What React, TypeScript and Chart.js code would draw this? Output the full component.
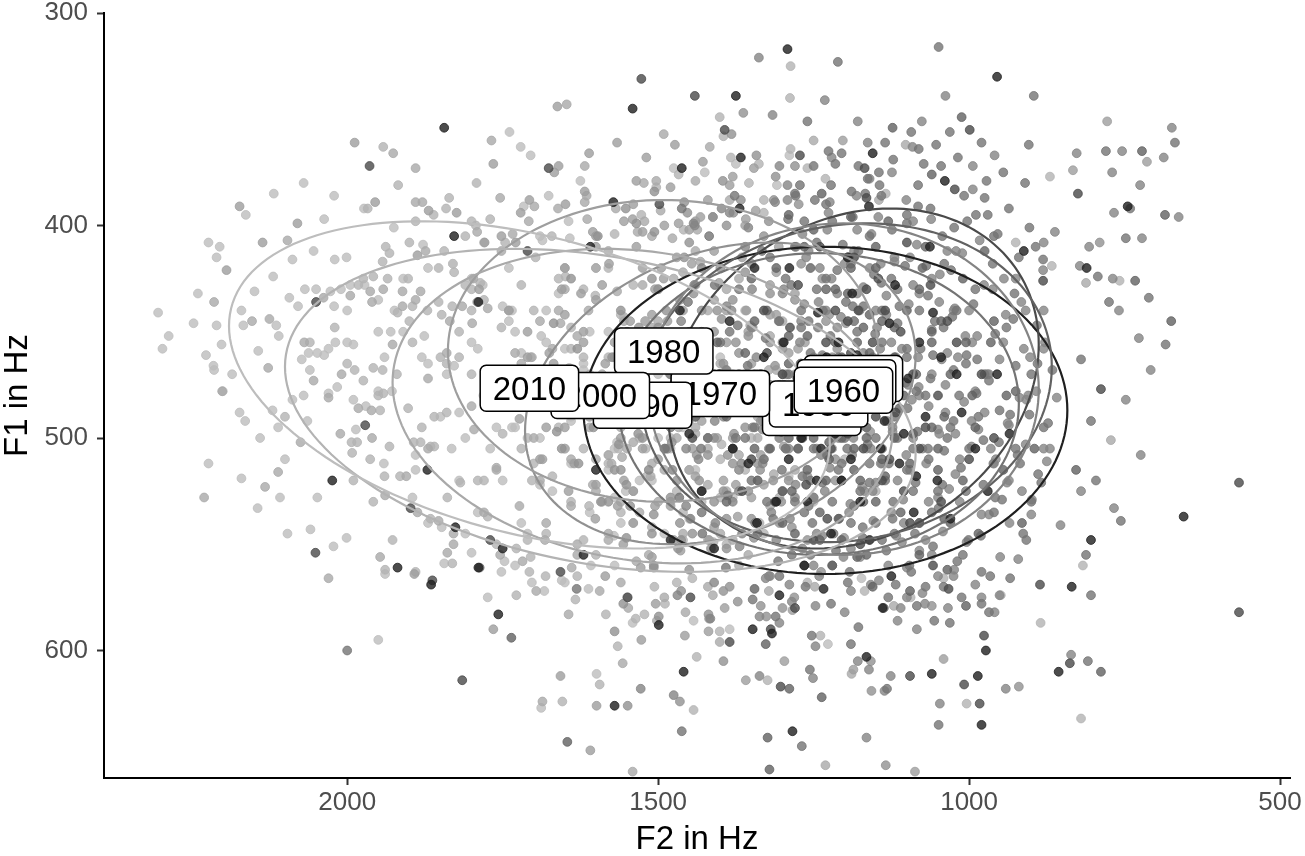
import React, { useEffect, useRef } from 'react';
import { Chart, registerables } from 'chart.js';

Chart.register(...registerables);

// ---------- data (F2 in Hz, F1 in Hz) ----------
const decades = ['1920', '1930', '1940', '1950', '1960', '1970', '1980', '1990', '2000', '2010'];

const d1920: number[][] = [
  [1402,470],[1355,512],[1298,455],[1260,530],[1215,498],[1180,461],[1142,505],[1098,472],[1051,520],[1012,488],
  [1320,488],[1276,472],[1243,441],[1205,520],[1167,487],[1128,446],[1089,535],[1045,462],[990,505],[955,470],
  [1450,498],[1385,445],[1341,540],[1302,497],[1254,466],[1222,545],[1188,432],[1150,478],[1112,512],[1070,490],
  [1498,482],[1430,525],[1366,478],[1289,420],[1238,505],[1196,476],[1160,548],[1119,428],[1080,455],[1030,538],
  [1540,455],[1465,440],[1410,552],[1330,462],[1270,500],[1229,462],[1190,510],[1136,492],[1058,441],[970,525],
  [1380,505],[1310,530],[1250,485],[1210,455],[1175,530],[1105,498],[1020,470],[935,498],[1600,515],[1480,548],
  [1345,420],[1265,560],[1195,415],[1125,565],[1063,410],[1425,485],[1290,510],[1245,520],[1165,468],[1085,518],
  [1844,354],[1828,405],[1789,436],[1871,515],[1826,542],[2024,520],[1919,561],[1789,561],[1750,552],[1620,555],
  [955,330],[1039,379],[745,391],[912,412],[811,420],[804,548],[655,537],
  [1292,317],[1541,345],[1375,339],[1155,366],[1367,368],[1462,373],[1572,389],[1369,392],[1161,391],[1609,410],
  [1865,569],[1757,583],[1570,626],[1499,588],[1459,610],
  [1305,574],[1348,590],[1317,592],[1234,571],[1165,603],[1060,611],[986,612],[980,635],[973,600],[1139,580],[835,570],[856,610],[1284,638]
];

const d1930: number[][] = [
  [1186,472],[1230,455],[1150,490],[1268,500],[1110,450],[1205,520],[1165,430],[1300,470],[1080,505],[1240,485],
  [1125,470],[1195,445],[1050,480],[1330,440],[1210,495],[1140,520],[1275,428],[1095,540],[1350,510],[1020,455],
  [1170,505],[1255,470],[1118,488],[1185,415],[1228,538],[1062,428],[1310,492],[1155,455],[1000,510],[1390,478],
  [1208,470],[1135,440],[1262,522],[1090,470],[1175,550],[1240,410],[1045,530],[1325,460],[1160,478],[1215,440],
  [980,470],[1420,455],[1195,498],[1128,510],[1288,448],[1070,495],[1250,548],[1146,425],[1035,445],[1365,525],
  [1190,460],[1105,525],[1280,478],[1222,505],[960,500],[1445,500],[1178,440],[1100,408],[1312,530],[1058,560],
  [1964,372],[2050,436],[1971,494],[1898,533],[2051,554],[1863,567],[1770,548],[1657,563],
  [999,355],[1023,383],[825,385],[881,426],[788,477],[566,521],[566,582],
  [1527,331],[1441,339],[1393,355],[1272,367],[1676,373],[1168,373],[1498,390],[1165,387],[1710,412],
  [1815,614],[1549,575],[1448,575],
  [1385,596],[1319,590],[1280,580],[1303,617],[1095,612],[1008,616],[983,625],[976,593],[1033,571],[886,569],[838,606]
];

const d1940: number[][] = [
  [1197,474],[1245,490],[1160,460],[1290,452],[1120,500],[1230,430],[1175,520],[1330,485],[1085,470],[1260,515],
  [1140,445],[1205,500],[1060,495],[1360,460],[1215,455],[1150,530],[1300,540],[1100,440],[1380,505],[1030,470],
  [1180,488],[1270,465],[1125,478],[1195,432],[1240,548],[1075,420],[1320,505],[1165,500],[990,495],[1410,470],
  [1220,478],[1145,470],[1285,525],[1095,512],[1180,556],[1255,420],[1040,538],[1345,445],[1170,448],[1225,510],
  [965,455],[1440,490],[1205,462],[1135,518],[1300,490],[1060,450],[1265,560],[1150,410],[1010,520],[1390,530],
  [1185,505],[1112,486],[1250,500],[1210,538],[940,480],[1470,470],[1190,420],[1080,540],[1335,470],[1050,505],
  [1012,349],[1060,376],[722,365],[685,395],[733,426],[675,445],[828,515],[1123,354],[1237,385],
  [1787,561],[1736,594],[1646,643],
  [1345,571],[1327,597],[1289,618],[1237,622],[1005,579],[788,610],[1324,641],[1321,656],
  [1130,398],[1190,396],[1250,402],[1310,420],[1070,410],[1010,425],[960,445],[925,478],[945,515],[985,545],
  [1035,562],[1095,572],[1155,570],[1220,560],[1280,545],[1340,520],[1390,490],[1405,455],[1350,425],[1290,395],
  [1060,455],[1120,462],[1180,455],[1240,475],[1050,515],[1110,535],[1170,530],[1230,520],[1290,465],[1345,505],
  [995,480],[1040,490],[1080,430],[1140,510],[1200,488],[1260,452],[1320,480],[1005,455],[1030,540],[1090,498],
  [1150,420],[1205,548],[1265,410],[975,412],[1325,440],[1165,555],[1105,480],[1215,430],[1275,505],[1045,445],
  [1185,515],[1240,535],[915,540],[895,505],[1120,448],[1080,555],[1300,525],[1370,470],[1225,502],[1160,442]
];

const d1950: number[][] = [
  [1242,484],[1290,470],[1200,500],[1330,510],[1160,465],[1270,440],[1220,530],[1370,480],[1120,490],[1300,525],
  [1180,450],[1250,505],[1100,515],[1400,455],[1255,460],[1190,540],[1340,545],[1140,440],[1420,500],[1070,480],
  [1225,492],[1310,478],[1165,495],[1235,440],[1285,555],[1115,430],[1360,500],[1205,512],[1035,500],[1450,475],
  [1262,478],[1185,478],[1325,530],[1135,520],[1220,560],[1295,425],[1080,540],[1385,450],[1210,462],[1268,518],
  [1005,465],[1480,495],[1245,470],[1175,525],[1345,495],[1100,458],[1305,565],[1190,418],[1050,525],[1430,535],
  [1228,508],[1150,500],[1290,500],[1252,540],[985,490],[1510,480],[1230,425],[1120,545],[1375,475],[1090,505],
  [1049,316],[896,339],[1031,356],[1081,364],[904,362],[669,361],[780,365],[1073,371],[975,387],[741,392],[970,395],[893,410],[748,406],[881,416],[793,424],
  [775,436],[711,434],[684,456],[820,463],[804,492],[796,520],[756,539],[812,555],
  [1211,323],[1260,351],[1226,365],[1215,371],[1145,375],[1272,381],[1144,381],[1279,386],[1189,384],
  [2000,600],[1631,571],[1462,638],
  [1311,584],[1253,593],[1256,609],[1190,597],[1132,618],[1049,635],[1031,587],[980,578],[980,563],[1084,579],[804,574],[809,605],[1269,645],
  [1100,395],[1160,405],[1220,398],[1280,410],[1040,418],[990,430],[940,448],[900,470],[925,505],[960,535],
  [1010,555],[1070,570],[1130,575],[1195,568],[1255,555],[1315,538],[1375,500],[1400,470],[1370,430],[1320,415],
  [1080,440],[1140,455],[1200,470],[1260,488],[1030,495],[1090,525],[1150,540],[1210,515],[1270,448],[1330,488],
  [975,470],[1025,468],[1055,445],[1115,500],[1175,490],[1235,465],[1295,505],[1345,470],[1005,525],[1065,510],
  [1125,425],[1185,532],[1245,430],[960,405],[1305,445],[1140,548],[1085,478],[1195,415],[1255,520],[1020,440],
  [1160,512],[1218,545],[900,530],[880,495],[1100,462],[1060,535],[1280,530],[1350,520],[1230,495],[1170,438],
  [1462,392],[1418,405],[1377,386],[1333,412],[1291,397],[1248,388],[1203,409],[1167,385],[1124,402],[1082,391],
  [1043,405],[1003,398],[962,418],[927,432],[891,447],[866,468],[873,493],[889,517],[908,548],[934,566],
  [968,582],[1012,575],[1056,586],[1093,563],[1137,580],[1178,589],[1222,578],[1263,570],[1307,558],[1348,576],
  [1391,561],[1429,545],[1466,528],[1489,505],[1497,482],[1476,458],[1452,436],[1409,428],[1372,447],[1327,453],
  [1286,428],[1243,448],[1198,436],[1153,423],[1112,438],[1069,419],[1027,443],[987,463],[951,487],[922,508],
  [958,528],[1001,548],[1043,522],[1087,545],[1129,512],[1171,542],[1214,553],[1258,532],[1301,515],[1344,540],
  [1388,527],[1431,505],[1398,482],[1356,466],[1313,491],[1271,465],[1229,472],[1187,463],[1144,486],[1102,474],
  [1058,461],[1016,480],[977,501],[1040,506],[1083,497],[1122,530],[1163,503],[1207,490],[1250,497],[1292,484],
  [1245,408],[1212,421],[1178,412],[1141,427],[1103,419],[1066,433],[1029,421],[993,437],[958,451],[925,466],
  [903,489],[918,512],[947,529],[981,546],[1019,558],[1058,551],[1096,560],[1133,553],[1171,547],[1209,538],
  [1236,521],[1228,497],[1207,478],[1172,489],[1136,471],[1099,486],[1062,472],[1025,492],[988,479],[952,502],
  [977,522],[1013,514],[1049,533],[1086,521],[1123,538],[1160,521],[1196,505],[1151,451],[1115,446],[1078,458],
  [1041,448],[1004,461],[968,473],[934,489],[1187,438],[1223,452],[1249,470],[1192,563],[1118,569],[1041,570],
  [966,565],[913,545],[884,521],[890,465],[929,444],[1265,535],[1258,445],[1140,505],[1066,505],[1000,505],
  [1250,372],[1205,366],[1163,378],[1122,369],[1082,381],[1045,372],[1008,386],[972,379],[936,392],[903,401],
  [1230,390],[1187,396],[1141,386],[1100,399],[1062,392],[1024,401],[989,395],[954,404],[920,415],[1280,385],
  [1265,398],[1222,381],[1178,372],[1135,361],[1093,356],[1053,362],[1018,368],[980,361],[945,375],[910,380]
];

const d1960: number[][] = [
  [1202,477],[1250,462],[1165,495],[1290,505],[1125,455],[1232,525],[1180,432],[1320,475],[1090,500],[1262,490],
  [1140,470],[1212,448],[1065,485],[1350,448],[1220,500],[1155,525],[1298,430],[1105,540],[1370,515],[1035,460],
  [1188,508],[1272,475],[1132,492],[1200,418],[1245,545],[1080,432],[1332,496],[1170,460],[1015,510],[1400,482],
  [1225,470],[1148,448],[1280,528],[1098,475],[1190,552],[1258,412],[1050,528],[1342,462],[1178,482],[1230,440],
  [990,478],[1430,458],[1210,500],[1140,512],[1300,455],[1075,505],[1268,552],[1160,420],[1025,440],[1380,530],
  [1195,465],[1115,520],[1285,485],[1238,508],[965,505],[1455,505],[1185,445],[1095,415],[1318,535],[1060,555],
  [1038,339],[1076,351],[1091,363],[959,367],[674,354],[827,366],[754,365],[687,368],[994,372],[994,383],[770,375],[725,381],[767,394],[663,396],[862,403],[880,408],[807,410],[722,406],[881,421],[822,419],[769,425],
  [759,440],[727,453],[708,468],[748,482],[724,508],[767,533],[853,541],[820,525],
  [1338,321],[1232,341],[1316,348],[1179,351],[1163,361],[1221,368],[1305,372],[1124,375],[1292,381],[1160,378],[1292,388],[1224,389],[1181,386],[1443,399],[1385,394],
  [1528,618],[1469,574],[1475,621],
  [1289,569],[1416,585],[1337,584],[1305,587],[1247,579],[1247,598],[1337,612],[1251,613],[1179,605],[1161,609],[1136,619],[1126,612],[1047,625],[1084,590],[959,582],[1025,565],[1100,575],[1071,578],[1145,567],[836,602],[941,618],[1165,641],
  [1180,402],[1120,415],[1060,425],[1000,440],[945,455],[1240,420],[1300,432],[1360,410],[1420,455],[1480,470],
  [905,480],[960,512],[1015,530],[1070,548],[1130,560],[1190,572],[1250,560],[1310,548],[1370,525],[1435,510],
  [880,440],[925,425],[1090,398],[1150,440],[1210,478],[1270,445],[1335,470],[1395,490],[1455,532],[1515,515],
  [870,505],[935,540],[995,455],[1048,498],[1108,458],[1168,525],[1228,490],[1288,538],[1348,495],[1408,540],
  [1035,412],[1092,482],[1158,505],[1212,432],[1272,482],[1332,512],[1390,468],[1442,428],[980,575],[1110,580],
  [1262,415],[1202,556],[1142,418],[1082,462],[1022,498],[962,430],[902,462],[1322,565],[1382,440],[1050,565],
  [1125,535],[1185,445],[1245,505],[1305,475],[1365,545],[915,525],[975,488],[1038,475],[1095,515],[1155,462],
  [1441,400],[1398,392],[1355,401],[1312,389],[1268,404],[1226,394],[1185,412],[1146,396],[1101,388],[1061,397],
  [1021,412],[983,407],[944,425],[909,440],[880,458],[859,481],[880,505],[899,529],[921,557],[951,574],
  [990,569],[1034,580],[1075,573],[1115,586],[1158,569],[1200,582],[1241,565],[1285,577],[1327,566],[1369,551],
  [1410,568],[1448,538],[1477,515],[1493,492],[1485,468],[1463,445],[1430,420],[1390,438],[1349,430],[1306,445],
  [1265,437],[1221,425],[1176,440],[1133,433],[1090,428],[1048,436],[1006,452],[968,470],[936,494],[908,482],
  [939,521],[980,536],[1022,517],[1065,530],[1108,549],[1150,521],[1193,535],[1236,546],[1279,522],[1322,505],
  [1366,512],[1409,492],[1378,473],[1336,480],[1294,470],[1251,483],[1208,476],[1166,470],[1123,495],[1080,480],
  [1038,488],[996,492],[957,510],[1018,462],[1060,470],[1101,508],[1143,458],[1186,500],[1229,508],[1272,455],
  [1228,402],[1193,415],[1157,404],[1120,417],[1084,409],[1047,423],[1011,413],[976,428],[941,442],[912,458],
  [892,478],[909,503],[936,520],[968,536],[1004,549],[1042,544],[1080,553],[1117,546],[1154,539],[1191,531],
  [1224,514],[1214,490],[1190,470],[1154,480],[1118,462],[1081,476],[1044,463],[1008,483],[971,470],[938,493],
  [961,512],[996,504],[1032,524],[1069,512],[1106,529],[1142,512],[1179,496],[1133,442],[1097,437],[1060,449],
  [1023,439],[987,452],[951,463],[919,481],[1170,429],[1206,443],[1236,461],[1175,556],[1100,561],[1024,562],
  [950,556],[900,536],[875,511],[878,455],[916,436],[1250,528],[1242,436],[1123,497],[1050,496],[985,496]
];

const d1970: number[][] = [
  [1400,479],[1450,465],[1360,495],[1490,505],[1320,455],[1430,525],[1380,435],[1520,475],[1290,500],[1460,490],
  [1340,470],[1410,450],[1265,485],[1550,450],[1420,500],[1355,525],[1500,430],[1305,540],[1570,515],[1235,462],
  [1388,508],[1472,475],[1332,492],[1400,420],[1445,545],[1280,435],[1532,498],[1370,460],[1215,510],[1600,482],
  [1425,470],[1348,448],[1480,528],[1298,475],[1390,552],[1458,415],[1250,528],[1542,462],[1378,482],[1430,440],
  [1190,478],[1630,458],[1410,500],[1340,512],[1500,455],[1275,505],[1468,552],[1360,422],[1225,442],[1580,530],
  [1395,465],[1315,520],[1485,485],[1438,508],[1165,505],[1655,505],
  [1363,347],[1382,357],[1342,367],[1280,372],[1311,377],[1396,379],[1314,388],[1274,390],[1535,399],[1506,403],[1453,394],[1412,396],[1379,394],
  [790,408],
  [1549,626],[1570,591],[1556,578],[1499,584],[1465,624],[1507,561],
  [1395,572],[1419,583],[1335,579],[1300,580],[1395,605],[1158,605],[1157,619],[920,617],[1060,579],[1134,654],
  [1330,405],[1390,400],[1450,408],[1510,425],[1270,418],[1230,445],[1200,480],[1215,520],[1260,548],[1320,565],
  [1385,570],[1450,562],[1510,545],[1560,515],[1585,480],[1560,440],[1300,458],[1360,470],[1420,462],[1480,482],
  [1290,520],[1350,538],[1410,530],[1470,520],[1530,470],[1245,495],[1320,432],[1380,512],[1440,490],[1500,448],
  [1265,470],[1335,492],[1405,440],[1465,540],[1525,500],[1350,418],[1415,552],[1285,542],[1545,532],[1220,462],
  [1375,455],[1435,478],[1305,500],[1485,505],[1395,525],
  [1702,472],[1668,446],[1640,425],[1597,405],[1552,392],[1506,384],[1458,389],[1412,396],[1367,388],[1322,398],
  [1278,410],[1236,425],[1198,446],[1170,470],[1159,497],[1172,523],[1201,547],[1238,563],[1281,575],[1326,584],
  [1372,577],[1418,585],[1463,572],[1507,560],[1551,547],[1592,530],[1628,512],[1663,497],[1615,478],[1574,462],
  [1531,448],[1487,440],[1443,432],[1398,444],[1355,452],[1312,466],[1271,478],[1233,494],[1260,518],[1302,530],
  [1346,547],[1390,538],[1434,520],[1478,502],[1521,488],[1563,503],[1604,495],[1551,522],[1507,536],[1463,548],
  [1420,508],[1378,498],[1336,515],[1294,505],[1252,470],[1212,458],[1442,470],[1485,465],[1366,478],[1322,485]
];

const d1980: number[][] = [
  [1492,459],[1545,445],[1450,475],[1590,485],[1410,435],[1525,505],[1470,415],[1620,455],[1380,480],[1560,470],
  [1430,450],[1505,430],[1350,465],[1655,430],[1515,480],[1445,505],[1600,410],[1395,520],[1680,495],[1320,442],
  [1480,488],[1570,455],[1420,472],[1490,400],[1540,525],[1365,415],[1635,478],[1460,440],[1300,490],[1710,462],
  [1520,450],[1440,428],[1580,508],[1390,455],[1480,532],[1555,398],[1335,508],[1650,442],[1470,462],[1525,420],
  [1275,458],[1740,440],[1505,480],[1430,492],[1600,435],[1360,485],[1565,532],[1450,402],[1310,422],[1690,510],
  [1485,445],[1405,500],[1585,465],[1535,488],[1250,485],[1770,485],
  [778,351],[714,370],[833,374],[1041,604],[1186,609],
  [1662,344],[1203,360],[1667,375],[1346,373],[1535,379],[1380,377],[1618,384],[1649,390],[1721,394],[1541,397],[1525,403],[1467,399],[1432,396],[1359,397],[1729,408],[1605,403],
  [1892,564],[1585,565],[1765,590],[1657,612],[1599,626],[1609,647],[1527,595],[1504,578],[1457,593],[1528,561],
  [1393,580],[1419,591],[1284,581],[1297,605],[1359,614],[1087,657],
  [1988,361],[1765,371],[2173,391],[1955,389],[1869,393],[1824,394],[1779,408],[2080,399],[2136,408],[2194,421],[1887,414],
  [1420,388],[1480,382],[1540,390],[1600,405],[1360,400],[1320,428],[1290,460],[1305,500],[1350,528],[1410,542],
  [1475,548],[1540,540],[1600,522],[1650,495],[1675,460],[1650,420],[1390,440],[1450,450],[1510,442],[1570,462],
  [1380,500],[1440,518],[1500,510],[1560,500],[1620,450],[1335,475],[1410,412],[1470,492],[1530,470],[1590,428],
  [1355,450],[1425,472],[1495,420],[1555,520],[1615,480],[1440,398],[1505,532],[1375,522],[1635,512],[1310,442],
  [1465,435],[1525,458],[1395,480],[1575,485],[1485,505],
  [1788,430],[1752,405],[1707,388],[1660,372],[1611,366],[1566,361],[1519,368],[1473,362],[1428,370],[1385,381],
  [1343,393],[1306,410],[1280,432],[1264,455],[1276,480],[1298,504],[1330,522],[1372,537],[1418,548],[1464,553],
  [1510,556],[1556,550],[1601,538],[1644,525],[1686,510],[1723,491],[1757,470],[1710,450],[1668,465],[1624,432],
  [1579,418],[1535,410],[1491,425],[1446,418],[1402,427],[1358,440],[1391,468],[1437,487],[1481,470],[1526,486]
];

const d1990: number[][] = [
  [1525,485],[1590,470],[1470,500],[1640,510],[1420,465],[1560,530],[1500,445],[1690,480],[1380,505],[1610,495],
  [1455,475],[1540,455],[1340,490],[1730,460],[1550,505],[1480,530],[1660,440],[1400,545],[1760,515],[1300,470],
  [1510,512],[1620,480],[1440,495],[1525,428],[1580,548],[1360,440],[1700,500],[1490,465],[1280,515],[1800,485],
  [1565,475],[1460,452],[1640,532],[1410,480],[1515,555],[1600,420],[1320,532],[1720,465],[1505,488],[1555,445],
  [1250,480],[1840,460],[1540,502],[1450,515],[1670,458],[1370,508],[1630,555],[1475,425],[1300,445],[1780,535],
  [1530,470],[1420,522],[1655,488],[1575,512],[1220,505],[1870,505],
  [1926,366],[1890,373],[1768,360],[2096,407],[1102,362],[812,427],[772,501],
  [1647,343],[1491,357],[1250,360],[1417,363],[1618,372],[1523,380],[1503,379],[1440,379],[1754,387],[1618,389],[1496,393],[1385,388],[1145,388],[1699,391],[1614,397],[1533,403],[1437,402],[1734,404],
  [2030,566],[1696,572],[1644,583],[1686,624],[1541,657],[1557,606],
  [1322,572],[1248,570],[1401,596],[1189,611],[1121,579],[1231,654],
  [2214,436],[2153,445],[2125,444],[2038,434],[1995,433],[1963,431],[1960,436],[1942,430],[1911,431],[1882,431],[1890,435],[1791,436],[1911,438],[1815,438],[1799,446],[1774,439],
  [2201,478],[2230,528],[2132,523],[2111,516],[2075,502],[2069,455],[2054,473],[2030,481],[2009,470],[1927,456],[1982,486],[1961,487],[1960,500],[2011,498],[1905,518],[1887,535],[1939,527],[1853,539],[1829,545],[1839,554],[1829,550],[1947,556],[1754,555],[1718,558],[2127,467],
  [1879,389],[1890,389],[1874,412],[1791,403],
  [1440,412],[1510,405],[1580,412],[1650,430],[1370,425],[1320,452],[1290,488],[1305,528],[1355,555],[1420,570],
  [1490,575],[1560,568],[1630,550],[1690,520],[1720,485],[1690,445],[1400,465],[1470,478],[1540,468],[1610,490],
  [1390,525],[1460,545],[1530,535],[1600,525],[1660,475],[1340,500],[1420,440],[1490,515],[1560,495],[1630,452],
  [1360,478],[1440,498],[1510,448],[1580,545],[1650,505],[1460,422],[1535,558],[1380,548],[1680,540],[1310,468],
  [1480,460],[1550,482],[1420,505],[1600,510],[1500,530],
  [1870,472],[1835,445],[1797,425],[1752,412],[1708,398],[1661,392],[1615,386],[1568,392],[1522,398],[1477,406],
  [1432,417],[1390,430],[1352,447],[1322,468],[1306,492],[1314,517],[1337,540],[1370,560],[1412,574],[1456,582],
  [1502,586],[1548,580],[1594,572],[1639,561],[1682,548],[1723,532],[1760,514],[1796,496],[1748,478],[1703,462],
  [1657,446],[1612,440],[1566,431],[1521,445],[1478,458],[1435,471],[1467,495],[1512,518],[1558,509],[1605,522]
];

const d2000: number[][] = [
  [1593,487],[1680,470],[1520,505],[1760,478],[1450,515],[1640,530],[1560,450],[1850,462],[1400,528],[1710,500],
  [1500,480],[1620,462],[1350,500],[1900,445],[1650,505],[1560,535],[1800,440],[1420,548],[1950,480],[1300,495],
  [1580,512],[1730,482],[1480,500],[1620,430],[1680,545],[1380,470],[1880,495],[1540,470],[1250,530],[2000,465],
  [1660,480],[1500,460],[1780,520],[1440,488],[1600,555],[1720,428],[1330,545],[1920,470],[1570,492],[1640,448],
  [1200,510],[2060,455],[1620,505],[1470,525],[1820,462],[1360,515],[1760,550],[1540,428],[1280,470],[1990,520],
  [1610,470],[1460,535],[1840,488],[1700,512],[1150,525],[2100,490],
  [1287,325],[1288,340],[1401,349],[1395,358],[1287,364],[1383,368],[1467,376],[1338,371],[1260,373],[1503,382],[1354,380],[1231,378],[1134,385],[1330,388],[1671,405],[1527,395],[1459,402],[1330,394],[1570,404],
  [870,377],[925,408],[867,419],[758,426],
  [1831,559],[1707,563],[1728,574],[1594,616],[1654,624],[1565,598],[1522,583],[1443,628],[1438,603],[1506,570],
  [1401,591],[1260,568],[1239,593],[1324,614],[1004,625],[1041,566],[949,574],[1094,575],[1168,572],[885,587],[820,632],[817,560],
  [1942,363],[1918,381],[1792,380],[1967,392],[1861,395],[1836,387],[1810,405],[1800,398],[1770,397],[1943,417],[1932,413],[1900,408],[1844,412],[1853,420],[1828,422],[1919,441],[1895,438],[1871,440],[1853,436],[1831,438],[1902,425],[1810,428],[1786,427],[1974,425],[1958,424],[1935,425],
  [1988,468],[1974,473],[1958,467],[1942,479],[1947,487],[1984,502],[1993,502],[1992,507],[1932,504],[1963,510],[1940,518],[1915,518],[1893,502],[1882,502],[1866,504],[1958,530],[1866,538],[1839,528],[1927,548],[1890,563],[1939,562],[1705,556],
  [1500,430],[1580,420],[1660,425],[1740,440],[1820,450],[1420,455],[1360,485],[1340,520],[1390,550],[1470,568],
  [1550,575],[1630,565],[1710,548],[1790,520],[1860,490],[1450,492],[1530,500],[1610,485],[1690,470],[1770,478],
  [1430,530],[1510,542],[1590,530],[1670,518],[1750,498],[1480,460],[1560,442],[1640,458],[1720,505],[1800,470],
  [1400,510],[1540,525],[1620,548],[1700,440],[1840,465],[1460,548],[1580,462],[1660,495],[1780,435],[1520,478],
  [2020,448],[1982,428],[1938,410],[1890,398],[1841,392],[1793,400],[1746,408],[1697,415],[1649,424],[1601,433],
  [1555,443],[1510,455],[1466,468],[1428,484],[1398,503],[1392,527],[1411,549],[1445,566],[1489,578],[1536,585],
  [1584,583],[1633,576],[1681,565],[1728,552],[1774,537],[1818,521],[1860,504],[1902,486],[1943,468],[1895,455],
  [1848,442],[1800,430],[1752,448],[1705,462],[1658,474],[1611,490],[1564,505],[1518,518],[1611,532],[1703,520]
];

const d2010: number[][] = [
  [1707,475],[1790,458],[1640,492],[1870,465],[1570,505],[1750,520],[1680,440],[1950,450],[1510,520],[1820,488],
  [1620,468],[1730,450],[1460,495],[2010,430],[1760,495],[1670,525],[1910,425],[1540,540],[2060,468],[1420,500],
  [1690,500],[1840,470],[1600,488],[1740,420],[1790,535],[1500,470],[1990,482],[1650,458],[1380,528],[2110,452],
  [1770,468],[1610,450],[1890,508],[1560,478],[1710,545],[1830,418],[1450,538],[2030,458],[1680,482],[1750,438],
  [1330,510],[2170,440],[1730,495],[1580,515],[1930,450],[1480,505],[1870,540],[1650,420],[1400,462],[2100,510],
  [1720,460],[1570,528],[1950,478],[1810,500],[1290,518],[2200,478],
  [2037,397],[2223,408],[2210,415],[2088,416],[2054,412],[2001,415],[2119,424],[2149,431],[2304,441],[2247,446],[2210,447],[2167,447],[2093,434],[2079,438],[2050,430],[2027,431],[2021,438],[1995,428],
  [2202,456],[2227,461],[2215,466],[2214,468],[2185,470],[2173,488],[2164,492],[2140,500],[2223,512],[2170,519],[2108,528],[2144,533],[2096,545],[2059,543],[2022,551],[2001,547],[2048,528],[2143,459],[2120,487],[2111,495],[2064,492],[2070,480],[2088,482],[2062,460],[2048,460],[2037,461],[2016,476],[2019,455],[2000,455],[1990,456],
  [1739,356],[1721,363],[1705,367],[1289,367],[1375,371],[1475,373],[1425,375],[1625,379],[1309,381],[1676,386],[1716,391],[1644,398],[1686,407],[1642,406],
  [1939,564],[1844,559],[1747,558],[1612,571],[1774,575],[1683,572],[1950,595],[1599,611],[1688,627],[1541,587],[1443,586],
  [1385,590],[1227,597],[1173,566],[2297,458],[2287,452],
  [1600,420],[1690,405],[1780,408],[1870,420],[1950,435],[1520,445],[1460,478],[1440,515],[1490,545],[1570,560],
  [1650,568],[1730,560],[1810,545],[1890,515],[1970,485],[1560,480],[1640,490],[1720,470],[1800,455],[1880,462],
  [1530,520],[1610,535],[1690,522],[1770,505],[1850,490],[1580,450],[1660,432],[1740,445],[1820,520],[1910,450],
  [1500,500],[1640,512],[1720,540],[1800,425],[1940,462],[1560,540],[1680,455],[1760,485],[2000,440],[1620,465],
  [2240,432],[2205,410],[2163,395],[2118,385],[2070,380],[2021,386],[1973,392],[1925,401],[1878,409],[1830,418],
  [1782,428],[1735,440],[1688,452],[1643,467],[1601,483],[1566,502],[1552,525],[1571,546],[1608,560],[1655,567],
  [1703,568],[1752,563],[1800,554],[1848,542],[1895,528],[1941,512],[1986,496],[2030,479],[2073,463],[2114,447],
  [2068,430],[2020,416],[1972,428],[1924,440],[1876,452],[1828,466],[1781,480],[1735,495],[1832,505],[1928,478]
];

const pointsByDecade = [d1920, d1930, d1940, d1950, d1960, d1970, d1980, d1990, d2000, d2010];

// ellipse summaries per decade (centre, half-extent in Hz, correlation of F2/F1)
const ellipseF2 = [1231, 1186, 1197, 1242, 1202, 1400, 1492, 1525, 1593, 1707];
const ellipseF1 = [487, 472, 474, 484, 477, 479, 459, 485, 487, 475];
const ellipseHalfF2 = [389, 298, 330, 322, 314, 314, 346, 402, 507, 483];
const ellipseHalfF1 = [77, 80, 75, 71, 78, 71, 71, 74, 76, 77];
const ellipseCorr = [0, 0.2, 0.1, 0, 0, 0.25, 0, -0.15, -0.27, -0.36];

// decade label positions
const labelF2 = [1253, 1186, 1197, 1242, 1202, 1400, 1491, 1525, 1593, 1707];
const labelF1 = [488, 472, 474, 484, 477.5, 479, 459, 484.6, 480, 476.6];

const xTicks = [500, 1000, 1500, 2000];
const yTicks = [300, 400, 500, 600];

const grays = ['#1f1f1f', '#4a4a4a', '#626262', '#747474', '#848484', '#919191', '#9e9e9e', '#a9a9a9', '#b3b3b3', '#bdbdbd'];
const FONT = '"Liberation Sans", Arial, Helvetica, sans-serif';

function hexToRgba(hex: string, a: number) {
  const v = parseInt(hex.slice(1), 16);
  return `rgba(${(v >> 16) & 255},${(v >> 8) & 255},${v & 255},${a})`;
}

const overlayPlugin = {
  id: 'overlay',
  afterDatasetsDraw(chart: any) {
    const { ctx, chartArea, scales } = chart;
    const xs = scales.x;
    const ys = scales.y;
    ctx.save();
    ctx.beginPath();
    ctx.rect(chartArea.left, chartArea.top, chartArea.right - chartArea.left, chartArea.bottom - chartArea.top);
    ctx.clip();
    for (let i = 0; i < decades.length; i++) {
      const cx = xs.getPixelForValue(ellipseF2[i]);
      const cy = ys.getPixelForValue(ellipseF1[i]);
      const W = Math.abs(xs.getPixelForValue(ellipseF2[i] + ellipseHalfF2[i]) - cx);
      const H = Math.abs(ys.getPixelForValue(ellipseF1[i] + ellipseHalfF1[i]) - cy);
      const sx = Math.sign(xs.getPixelForValue(ellipseF2[i] + 1) - cx);
      const sy = Math.sign(ys.getPixelForValue(ellipseF1[i] + 1) - cy);
      const rp = ellipseCorr[i] * sx * sy;
      const q = Math.sqrt(1 - rp * rp);
      ctx.beginPath();
      const n = 160;
      for (let k = 0; k <= n; k++) {
        const t = (k / n) * Math.PI * 2;
        const px = cx + W * Math.cos(t);
        const py = cy + H * (rp * Math.cos(t) + q * Math.sin(t));
        if (k === 0) ctx.moveTo(px, py);
        else ctx.lineTo(px, py);
      }
      ctx.closePath();
      ctx.strokeStyle = grays[i];
      ctx.lineWidth = 2.2;
      ctx.stroke();
    }
    ctx.restore();

    ctx.save();
    ctx.font = `33px ${FONT}`;
    ctx.textAlign = 'center';
    ctx.textBaseline = 'alphabetic';
    for (let i = 0; i < decades.length; i++) {
      const px = xs.getPixelForValue(labelF2[i]);
      const py = ys.getPixelForValue(labelF1[i]);
      const tw = ctx.measureText(decades[i]).width;
      const bw = tw + 25;
      const bh = 46;
      ctx.beginPath();
      ctx.roundRect(px - bw / 2, py - bh / 2, bw, bh, 6);
      ctx.fillStyle = '#ffffff';
      ctx.fill();
      ctx.lineWidth = 1.5;
      ctx.strokeStyle = '#000000';
      ctx.stroke();
      ctx.fillStyle = '#000000';
      ctx.fillText(decades[i], px, py + 33 * 0.358);
    }
    ctx.restore();
  },
};

export default function App() {
  const canvasRef = useRef<HTMLCanvasElement | null>(null);

  useEffect(() => {
    document.body.style.margin = '0';
    const canvas = canvasRef.current;
    if (!canvas) return;
    const datasets = pointsByDecade.map((pts, i) => ({
      label: decades[i],
      data: pts.map((p) => ({ x: p[0], y: p[1] })),
      backgroundColor: hexToRgba(grays[i], 0.8),
      borderColor: hexToRgba(grays[i], 0.8),
      borderWidth: 1,
      pointRadius: 4.4,
      pointHoverRadius: 4.4,
    }));
    const tickFont = { family: FONT, size: 26, lineHeight: 1 };
    const chart = new Chart(canvas, {
      type: 'scatter',
      data: { datasets },
      options: {
        animation: false,
        responsive: false,
        events: [],
        layout: { padding: { left: 0, right: 15, top: 13, bottom: 0 } },
        plugins: { legend: { display: false }, tooltip: { enabled: false } },
        scales: {
          x: {
            type: 'linear',
            reverse: true,
            min: 484,
            max: 2391,
            afterBuildTicks: (scale: any) => {
              scale.ticks = xTicks.map((v) => ({ value: v }));
            },
            afterFit: (scale: any) => {
              scale.height = 78;
              scale.paddingLeft = 0;
              scale.paddingRight = 0;
            },
            grid: { display: true, drawOnChartArea: false, drawTicks: true, tickLength: 7, tickWidth: 2, tickColor: '#333333' },
            border: { display: true, color: '#000000', width: 2 },
            ticks: { color: '#4d4d4d', font: tickFont, padding: 5, maxRotation: 0, callback: (v: any) => String(v) },
            title: { display: true, text: 'F2 in Hz', color: '#000000', font: { family: FONT, size: 33, lineHeight: 1 }, padding: { top: 0, bottom: 0 } },
          },
          y: {
            type: 'linear',
            reverse: true,
            min: 300,
            max: 660,
            afterBuildTicks: (scale: any) => {
              scale.ticks = yTicks.map((v) => ({ value: v }));
            },
            afterFit: (scale: any) => {
              scale.width = 104;
              scale.paddingTop = 0;
              scale.paddingBottom = 0;
            },
            grid: { display: true, drawOnChartArea: false, drawTicks: true, tickLength: 7, tickWidth: 2, tickColor: '#333333' },
            border: { display: true, color: '#000000', width: 2 },
            ticks: { color: '#4d4d4d', font: tickFont, padding: 9, callback: (v: any) => String(v) },
            title: { display: true, text: 'F1 in Hz', color: '#000000', font: { family: FONT, size: 33, lineHeight: 1 }, padding: { top: 1.5, bottom: 0 } },
          },
        },
      },
      plugins: [overlayPlugin],
    } as any);
    return () => chart.destroy();
  }, []);

  return (
    <div style={{ width: 1305, height: 856, position: 'relative' }}>
      <canvas ref={canvasRef} width={1305} height={856} style={{ display: 'block' }} />
    </div>
  );
}
